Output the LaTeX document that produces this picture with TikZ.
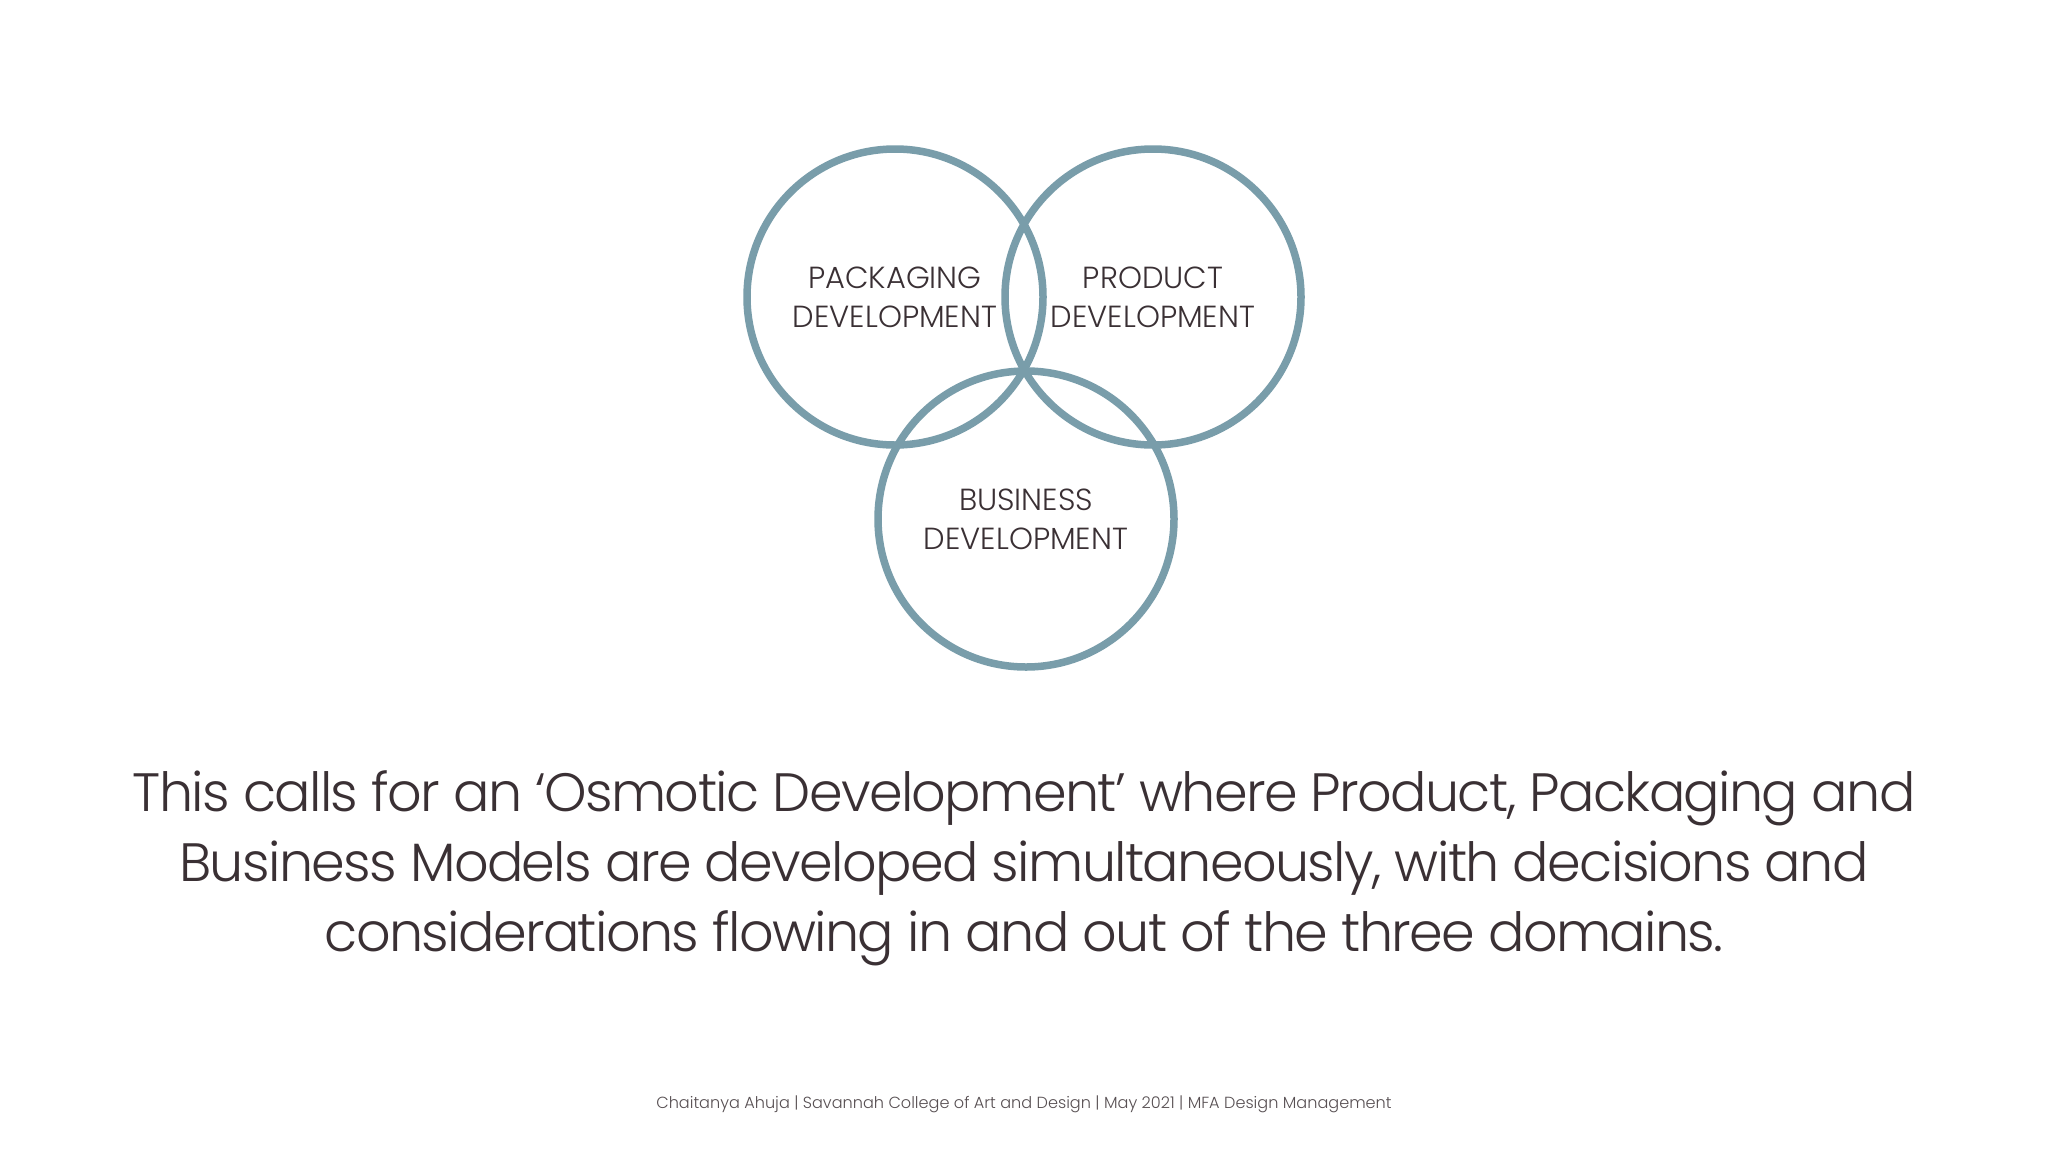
\documentclass[tikz,border=0pt]{standalone}
\usepackage{fontspec}
\setmainfont{Poppins}[UprightFont=* Light]
\newfontfamily\tightfont{Poppins}[UprightFont=* Light, LetterSpace=-3]
\usetikzlibrary{positioning}

\definecolor{ringblue}{RGB}{121,157,170}
\definecolor{inkbrown}{RGB}{58,48,52}

\tikzset{
  ring/.style={circle, draw=ringblue, line width=7.5pt, minimum size=296pt,
    inner sep=0pt, align=center, text=inkbrown,
    font=\fontsize{30.5}{39}\selectfont},
  bodytext/.style={align=center, text=inkbrown, inner sep=0pt,
    font=\tightfont\fontsize{54}{70}\selectfont},
  credit/.style={text=inkbrown!85, inner sep=0pt, font=\fontsize{16.1}{20}\selectfont}
}

\begin{document}
\begin{tikzpicture}[x=1pt,y=-1pt]
  \useasboundingbox[fill=white] (0,0) rectangle (2048,1152);

  % the three domains
  \node (pack) at (895,297) [ring] {PACKAGING\\DEVELOPMENT};
  \node (prod) at (1153,297) [ring] {PRODUCT\\DEVELOPMENT};
  \node (busi) at (1026,519) [ring] {BUSINESS\\DEVELOPMENT};

  % statement
  \node (say) at (1024,868) [bodytext]
    {This calls for an ‘Osmotic Development’ where Product, Packaging and\\
     Business Models are developed simultaneously, with decisions and\\
     considerations flowing in and out of the three domains.};

  \node (foot) at (1024,1104) [credit]
    {Chaitanya Ahuja | Savannah College of Art and Design | May 2021 | MFA Design Management};
\end{tikzpicture}
\end{document}
